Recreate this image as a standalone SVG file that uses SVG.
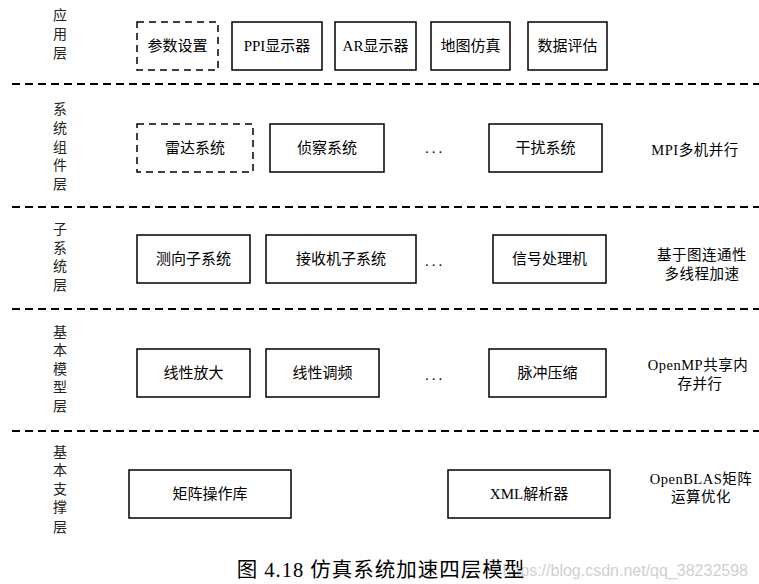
<svg xmlns="http://www.w3.org/2000/svg" width="759" height="584" viewBox="0 0 759 584">
<style>
text{font-family:"Liberation Serif","Noto Sans CJK SC",serif;fill:#000}
.box{fill:#fff;stroke:#000;stroke-width:1.5}
.dbox{fill:#fff;stroke:#000;stroke-width:1.5;stroke-dasharray:7 5}
.sep{stroke:#000;stroke-width:2;stroke-dasharray:8 5}
.t{font-size:15px;text-anchor:middle;dominant-baseline:central}
.dots{font-size:15px;text-anchor:middle;dominant-baseline:central;letter-spacing:3px}
.lay{font-size:14px;text-anchor:middle;dominant-baseline:central;fill:#222}
.note{font-size:14.5px;text-anchor:middle;dominant-baseline:central;letter-spacing:0.5px}
</style>
<rect width="759" height="584" fill="#fff"/>
<g id="separators">
<line class="sep" x1="12" y1="84" x2="759" y2="84"/>
<line class="sep" x1="12" y1="207" x2="759" y2="207"/>
<line class="sep" x1="12" y1="309" x2="759" y2="309"/>
<line class="sep" x1="12" y1="431" x2="759" y2="431"/>
</g>
<g id="layer-labels">
<text class="lay" x="60" y="15">应</text><text class="lay" x="60" y="34">用</text><text class="lay" x="60" y="53">层</text>
<text class="lay" x="60" y="109">系</text><text class="lay" x="60" y="128">统</text><text class="lay" x="60" y="147">组</text><text class="lay" x="60" y="165">件</text><text class="lay" x="60" y="184">层</text>
<text class="lay" x="60" y="229">子</text><text class="lay" x="60" y="248">系</text><text class="lay" x="60" y="266">统</text><text class="lay" x="60" y="285">层</text>
<text class="lay" x="60" y="332">基</text><text class="lay" x="60" y="350">本</text><text class="lay" x="60" y="369">模</text><text class="lay" x="60" y="387">型</text><text class="lay" x="60" y="406">层</text>
<text class="lay" x="60" y="452">基</text><text class="lay" x="60" y="470">本</text><text class="lay" x="60" y="489">支</text><text class="lay" x="60" y="507">撑</text><text class="lay" x="60" y="527">层</text>
</g>
<g id="n-canshu"><rect class="dbox" x="137" y="22" width="81" height="48"/><text class="t" x="177.5" y="46">参数设置</text></g>
<g id="n-ppi"><rect class="box" x="232" y="22" width="90" height="48"/><text class="t" x="277" y="46">PPI显示器</text></g>
<g id="n-ar"><rect class="box" x="335" y="22" width="81" height="48"/><text class="t" x="375.5" y="46">AR显示器</text></g>
<g id="n-ditu"><rect class="box" x="431" y="22" width="79" height="48"/><text class="t" x="470.5" y="46">地图仿真</text></g>
<g id="n-shuju"><rect class="box" x="528" y="22" width="79" height="48"/><text class="t" x="567.5" y="46">数据评估</text></g>

<g id="n-leida"><rect class="dbox" x="137" y="124" width="116" height="48"/><text class="t" x="195" y="148">雷达系统</text></g>
<g id="n-zhencha"><rect class="box" x="270" y="124" width="114" height="48"/><text class="t" x="327" y="148">侦察系统</text></g>
<g id="dots1"><text class="dots" x="435" y="148">...</text></g>
<g id="n-ganrao"><rect class="box" x="489" y="124" width="113" height="48"/><text class="t" x="545.5" y="148">干扰系统</text></g>
<g id="note-mpi"><text class="note" x="695" y="150">MPI多机并行</text></g>

<g id="n-cexiang"><rect class="box" x="137" y="235" width="113" height="48"/><text class="t" x="193.5" y="259">测向子系统</text></g>
<g id="n-jieshou"><rect class="box" x="266" y="235" width="150" height="48"/><text class="t" x="341" y="259">接收机子系统</text></g>
<g id="dots2"><text class="dots" x="435" y="261">...</text></g>
<g id="n-xinhao"><rect class="box" x="493" y="235" width="113" height="48"/><text class="t" x="549.5" y="259">信号处理机</text></g>
<g id="note-graph"><text class="note" x="702" y="255">基于图连通性</text><text class="note" x="702" y="274">多线程加速</text></g>

<g id="n-fangda"><rect class="box" x="137" y="349" width="113" height="48"/><text class="t" x="193.5" y="373">线性放大</text></g>
<g id="n-tiaopin"><rect class="box" x="266" y="349" width="113" height="48"/><text class="t" x="322.5" y="373">线性调频</text></g>
<g id="dots3"><text class="dots" x="435" y="375">...</text></g>
<g id="n-maichong"><rect class="box" x="489" y="349" width="117" height="48"/><text class="t" x="547.5" y="373">脉冲压缩</text></g>
<g id="note-omp"><text class="note" x="698" y="365">OpenMP共享内</text><text class="note" x="700" y="384">存并行</text></g>

<g id="n-juzhen"><rect class="box" x="129" y="470" width="162" height="48"/><text class="t" x="210" y="494">矩阵操作库</text></g>
<g id="n-xml"><rect class="box" x="448" y="470" width="162" height="48"/><text class="t" x="529" y="494">XML解析器</text></g>
<g id="note-blas"><text class="note" x="701" y="479">OpenBLAS矩阵</text><text class="note" x="701" y="497">运算优化</text></g>

<g id="caption">
<text x="748" y="576" style="font-family:'Liberation Sans','Noto Sans CJK SC',sans-serif;font-size:16px;fill:#d0d0d0;text-anchor:end">https://blog.csdn.net/qq_38232598</text>
<text x="381" y="577" style="font-size:20.5px;text-anchor:middle;letter-spacing:1px">图 4.18 仿真系统加速四层模型</text>
</g>
</svg>
